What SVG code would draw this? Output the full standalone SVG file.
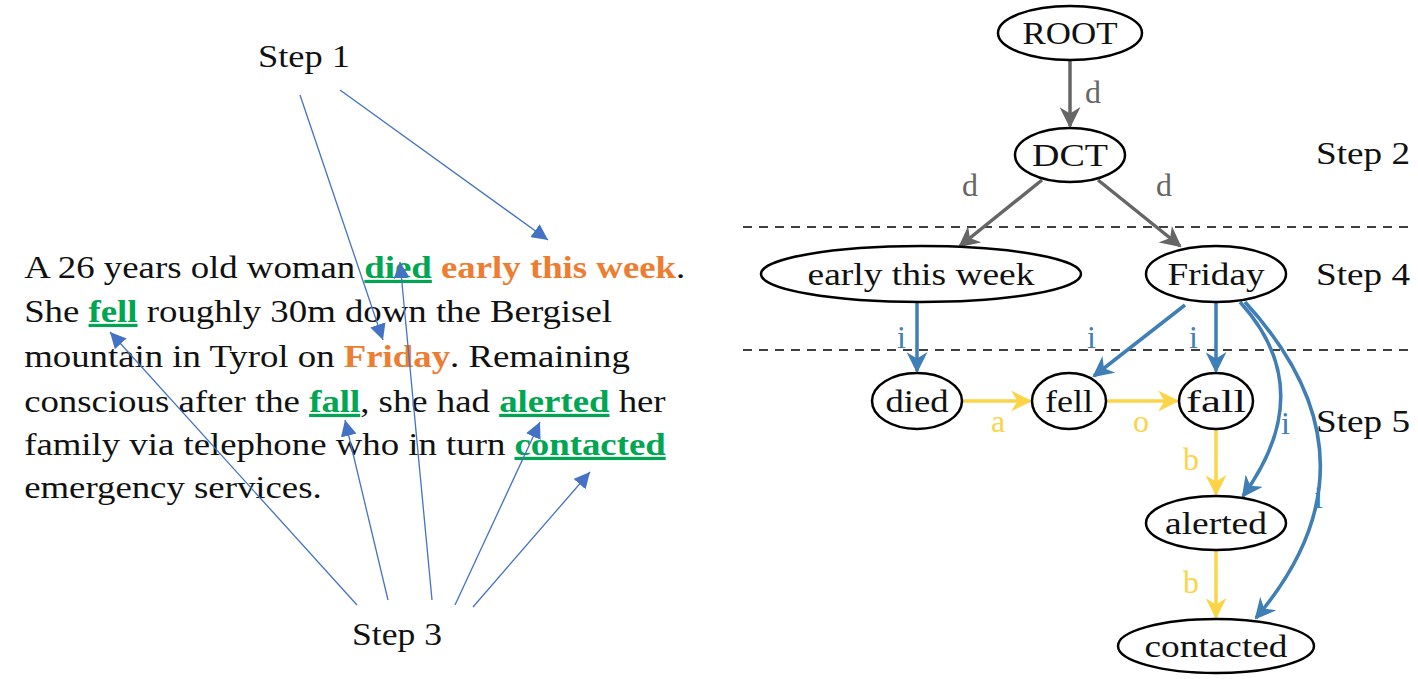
<svg xmlns="http://www.w3.org/2000/svg" width="1418" height="679" viewBox="0 0 1418 679">
<style>
text{font-family:"Liberation Serif","Times New Roman",serif;font-size:32px;fill:#111}
.g{fill:#00a651;font-weight:bold;text-decoration:underline}
.o{fill:#ed7d31;font-weight:bold}
.node ellipse{fill:#fff;stroke:#000;stroke-width:2.5}
.node text{text-anchor:middle}
.thin{stroke:#4472c4;stroke-width:1.3;fill:none}
.gr{stroke:#666;stroke-width:3.5;fill:none}
.bl{stroke:#3f7fb5;stroke-width:3.5;fill:none}
.ye{stroke:#fbd447;stroke-width:3.5;fill:none}
.lg{fill:#666;font-size:32px}
.lb{fill:#3f7fb5;font-size:32px}
.ly{fill:#fbd447;font-size:32px}
.dash{stroke:#000;stroke-width:1.3;stroke-dasharray:9,7}
</style>
<defs>
<marker id="at" viewBox="0 0 10 10" refX="10" refY="5" markerWidth="16" markerHeight="16" markerUnits="userSpaceOnUse" orient="auto"><path d="M0,0L10,5L0,10z" fill="#4472c4"/></marker>
<marker id="ag" viewBox="0 0 10 10" refX="9" refY="5" markerWidth="6" markerHeight="6" orient="auto"><path d="M0,0L10,5L0,10L3,5z" fill="#666"/></marker>
<marker id="ab" viewBox="0 0 10 10" refX="9" refY="5" markerWidth="6" markerHeight="6" orient="auto"><path d="M0,0L10,5L0,10L3,5z" fill="#3f7fb5"/></marker>
<marker id="ay" viewBox="0 0 10 10" refX="9" refY="5" markerWidth="6" markerHeight="6" orient="auto"><path d="M0,0L10,5L0,10L3,5z" fill="#fbd447"/></marker>
</defs>
<rect width="1418" height="679" fill="#fff"/>
<g id="passage">
<g transform="matrix(1.15,0,0,1,0,0)">
<text x="21" y="278">A 26 years old woman <tspan class="g">died</tspan> <tspan class="o">early this week</tspan>.</text>
<text x="21" y="322">She <tspan class="g">fell</tspan> roughly 30m down the Bergisel</text>
<text x="21" y="367">mountain in Tyrol on <tspan class="o">Friday</tspan>. Remaining</text>
<text x="21" y="412">conscious after the <tspan class="g">fall</tspan>, she had <tspan class="g">alerted</tspan> her</text>
<text x="21" y="455">family via telephone who in turn <tspan class="g">contacted</tspan></text>
<text x="21" y="498">emergency services.</text>
</g>
<text x="258" y="67" textLength="92" lengthAdjust="spacingAndGlyphs">Step 1</text>
<text x="352" y="645" textLength="90" lengthAdjust="spacingAndGlyphs">Step 3</text>
</g>
<g id="pointers">
<line class="thin" x1="300" y1="95" x2="383" y2="340" marker-end="url(#at)"/>
<line class="thin" x1="340" y1="90" x2="548" y2="240" marker-end="url(#at)"/>
<line class="thin" x1="357" y1="605" x2="110" y2="332" marker-end="url(#at)"/>
<line class="thin" x1="388" y1="600" x2="345" y2="420" marker-end="url(#at)"/>
<line class="thin" x1="432" y1="600" x2="400" y2="262" marker-end="url(#at)"/>
<line class="thin" x1="455" y1="605" x2="540" y2="422" marker-end="url(#at)"/>
<line class="thin" x1="473" y1="607" x2="590" y2="472" marker-end="url(#at)"/>
</g>
<g id="steps">
<line class="dash" x1="743" y1="227" x2="1410" y2="227"/>
<line class="dash" x1="743" y1="350" x2="1410" y2="350"/>
<text x="1316" y="164" textLength="94" lengthAdjust="spacingAndGlyphs">Step 2</text>
<text x="1316" y="285" textLength="94" lengthAdjust="spacingAndGlyphs">Step 4</text>
<text x="1316" y="432" textLength="94" lengthAdjust="spacingAndGlyphs">Step 5</text>
</g>
<g id="connectors">
<line class="gr" x1="1070" y1="60" x2="1070" y2="126" marker-end="url(#ag)"/>
<line class="gr" x1="1042" y1="180" x2="960" y2="246" marker-end="url(#ag)"/>
<line class="gr" x1="1098" y1="180" x2="1180" y2="246" marker-end="url(#ag)"/>
<line class="bl" x1="917" y1="302" x2="917" y2="371" marker-end="url(#ab)"/>
<line class="bl" x1="1185" y1="305" x2="1094" y2="376" marker-end="url(#ab)"/>
<line class="bl" x1="1216" y1="302" x2="1216" y2="371" marker-end="url(#ab)"/>
<path class="bl" d="M1240,302 Q1320,390 1243,496" marker-end="url(#ab)"/>
<path class="bl" d="M1245,302 Q1390,460 1256,618" marker-end="url(#ab)"/>
<line class="ye" x1="963" y1="401" x2="1030" y2="401" marker-end="url(#ay)"/>
<line class="ye" x1="1107" y1="401" x2="1177" y2="401" marker-end="url(#ay)"/>
<line class="ye" x1="1216" y1="430" x2="1216" y2="494" marker-end="url(#ay)"/>
<line class="ye" x1="1216" y1="551" x2="1216" y2="617" marker-end="url(#ay)"/>
<text class="lg" x="1085" y="103">d</text>
<text class="lg" x="962" y="196">d</text>
<text class="lg" x="1156" y="196">d</text>
<text class="lb" x="897" y="348">i</text>
<text class="lb" x="1087" y="348">i</text>
<text class="lb" x="1189" y="348">i</text>
<text class="lb" x="1281" y="434">i</text>
<text class="lb" x="1314" y="508">i</text>
<text class="ly" x="991" y="432">a</text>
<text class="ly" x="1133" y="432">o</text>
<text class="ly" x="1183" y="470">b</text>
<text class="ly" x="1183" y="593">b</text>
</g>
<g id="n-root" class="node"><ellipse cx="1070" cy="33" rx="72" ry="27"/><text x="1070" y="44" textLength="95" lengthAdjust="spacingAndGlyphs">ROOT</text></g>
<g id="n-dct" class="node"><ellipse cx="1070" cy="155" rx="55" ry="27"/><text x="1070" y="166" textLength="76" lengthAdjust="spacingAndGlyphs">DCT</text></g>
<g id="n-early" class="node"><ellipse cx="921" cy="274" rx="160" ry="28"/><text x="921" y="285" textLength="227" lengthAdjust="spacingAndGlyphs">early this week</text></g>
<g id="n-friday" class="node"><ellipse cx="1216" cy="274" rx="70" ry="28"/><text x="1216" y="285" textLength="97" lengthAdjust="spacingAndGlyphs">Friday</text></g>
<g id="n-died" class="node"><ellipse cx="917" cy="401" rx="45" ry="28"/><text x="917" y="412" textLength="63" lengthAdjust="spacingAndGlyphs">died</text></g>
<g id="n-fell" class="node"><ellipse cx="1069" cy="401" rx="37" ry="28"/><text x="1069" y="412" textLength="48" lengthAdjust="spacingAndGlyphs">fell</text></g>
<g id="n-fall" class="node"><ellipse cx="1216" cy="401" rx="37" ry="28"/><text x="1216" y="412" textLength="60" lengthAdjust="spacingAndGlyphs">fall</text></g>
<g id="n-alerted" class="node"><ellipse cx="1216" cy="523" rx="70" ry="27"/><text x="1216" y="534" textLength="102" lengthAdjust="spacingAndGlyphs">alerted</text></g>
<g id="n-contacted" class="node"><ellipse cx="1216" cy="646" rx="98" ry="27"/><text x="1216" y="657" textLength="143" lengthAdjust="spacingAndGlyphs">contacted</text></g>
</svg>
